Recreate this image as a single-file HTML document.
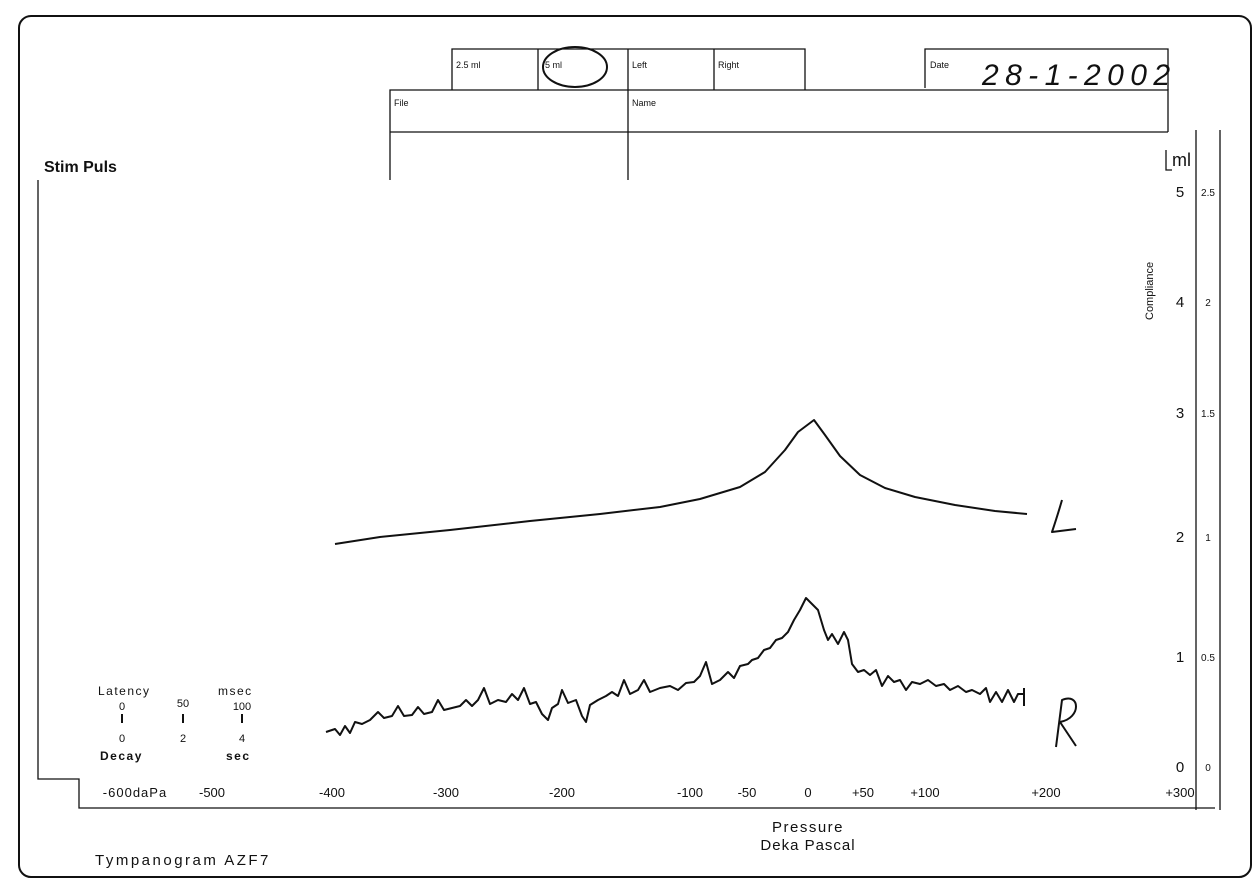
<!DOCTYPE html>
<html><head><meta charset="utf-8"><style>
html,body{margin:0;padding:0;background:#fff}
svg{display:block}
text{font-family:"Liberation Sans",sans-serif;fill:#111}
</style></head><body>
<svg width="1260" height="896" viewBox="0 0 1260 896" xmlns="http://www.w3.org/2000/svg">
<rect x="19" y="16" width="1232" height="861" rx="12" fill="none" stroke="#111" stroke-width="2"/>
<g stroke="#111" stroke-width="1.3" fill="none">
<path d="M452 90V49H805V90M538 49V90M628 49V90M714 49V90"/>
<path d="M925 88V49H1168V90"/>
<path d="M390 180V90H1168V132M390 132H1168M628 90V180"/>
<path d="M1196 130V810M1220 130V810"/>
<path d="M38 180V779H79V808H1215"/>
<path d="M1166 150V170H1172"/>
</g>
<ellipse cx="575" cy="67" rx="32" ry="20" fill="none" stroke="#111" stroke-width="2"/>
<g font-size="9">
<text x="456" y="68">2.5 ml</text><text x="545" y="68">5 ml</text>
<text x="632" y="68">Left</text><text x="718" y="68">Right</text>
<text x="930" y="68">Date</text><text x="394" y="106">File</text><text x="632" y="106">Name</text>
</g>
<text x="982" y="85" font-size="30" font-style="italic" font-family="Liberation Serif" textLength="188">28-1-2002</text>
<text x="44" y="172" font-size="16" font-weight="bold">Stim Puls</text>
<text x="1172" y="166" font-size="18">ml</text>
<g font-size="15" text-anchor="middle">
<text x="1180" y="197">5</text><text x="1180" y="307">4</text><text x="1180" y="418">3</text>
<text x="1180" y="542">2</text><text x="1180" y="662">1</text><text x="1180" y="772">0</text>
</g>
<g font-size="10" text-anchor="middle">
<text x="1208" y="196">2.5</text><text x="1208" y="306">2</text><text x="1208" y="417">1.5</text>
<text x="1208" y="541">1</text><text x="1208" y="661">0.5</text><text x="1208" y="771">0</text>
</g>
<text transform="translate(1153,320) rotate(-90)" font-size="11">Compliance</text>
<g font-size="13" text-anchor="middle">
<text x="135" y="797" letter-spacing="1">-600daPa</text><text x="212" y="797">-500</text><text x="332" y="797">-400</text>
<text x="446" y="797">-300</text><text x="562" y="797">-200</text><text x="690" y="797">-100</text>
<text x="747" y="797">-50</text><text x="808" y="797">0</text><text x="863" y="797">+50</text>
<text x="925" y="797">+100</text><text x="1046" y="797">+200</text><text x="1180" y="797">+300</text>
</g>
<text x="808" y="832" font-size="15" text-anchor="middle" letter-spacing="1.5">Pressure</text>
<text x="808" y="850" font-size="15" text-anchor="middle" letter-spacing="1">Deka Pascal</text>
<text x="95" y="865" font-size="15" letter-spacing="2.5">Tympanogram  AZF7</text>
<g font-size="12" letter-spacing="1.5">
<text x="98" y="695">Latency</text><text x="218" y="695">msec</text>
<text x="100" y="760" font-weight="bold">Decay</text><text x="226" y="760" font-weight="bold">sec</text>
</g>
<g font-size="11" text-anchor="middle">
<text x="122" y="710">0</text><text x="183" y="707">50</text><text x="242" y="710">100</text>
<text x="122" y="742">0</text><text x="183" y="742">2</text><text x="242" y="742">4</text>
</g>
<g stroke="#111" stroke-width="2"><path d="M122 714V723M183 714V723M242 714V723"/></g>
<g fill="none" stroke="#111" stroke-width="2" stroke-linejoin="round">
<path d="M335 544 L380 537 L450 530 L530 521 L600 514 L660 507 L700 499 L740 487 L765 472 L785 450 L798 432 L814 420 L825 435 L840 456 L860 475 L885 488 L915 497 L955 505 L995 511 L1027 514"/>
<path d="M326 732 L335 729 L340 735 L345 726 L350 733 L355 722 L362 724 L370 720 L378 712 L384 718 L392 716 L398 706 L404 716 L412 715 L418 707 L424 714 L432 712 L438 700 L444 710 L452 708 L460 706 L466 700 L472 706 L478 700 L484 688 L490 704 L498 700 L506 702 L512 694 L518 700 L524 688 L530 704 L536 702 L542 714 L548 720 L552 708 L558 704 L562 690 L568 703 L576 700 L582 716 L586 722 L590 705 L598 700 L606 696 L612 692 L618 696 L624 680 L630 694 L638 690 L644 680 L650 692 L660 688 L670 686 L678 690 L686 683 L694 682 L700 676 L706 662 L712 684 L720 680 L728 672 L734 678 L740 666 L748 664 L752 660 L758 658 L764 650 L770 648 L776 640 L782 638 L788 632 L794 620 L800 610 L806 598 L812 604 L818 610 L824 630 L828 640 L832 634 L838 644 L844 632 L848 640 L852 664 L858 672 L864 670 L870 675 L876 670 L882 686 L888 676 L894 682 L900 680 L906 690 L912 682 L920 684 L928 680 L936 686 L944 684 L950 690 L958 686 L966 692 L972 690 L980 694 L986 688 L990 702 L996 692 L1002 702 L1008 690 L1014 702 L1018 694 L1024 694"/>
<path d="M1024 688V706"/>
<path d="M1062 500 C1058 514 1054 526 1052 532 L1076 529"/>
<path d="M1056 747 L1062 700 C1080 692 1082 718 1060 722 L1076 746"/>
</g>
</svg>
</body></html>
